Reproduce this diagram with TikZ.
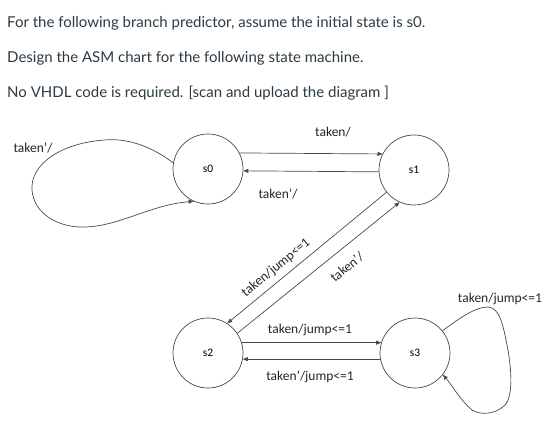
\documentclass[tikz,border=0pt]{standalone}
\usepackage{fontspec}
\setmainfont{Carlito}
\newfontfamily\latofont{Lato}
\usetikzlibrary{arrows.meta}
\definecolor{qtext}{HTML}{2D3B45}
\definecolor{ln}{HTML}{4A4A4A}
\begin{document}
\begin{tikzpicture}[x=1pt,y=-1pt,
  qline/.style={anchor=base west,text=qtext,font=\latofont\fontsize{15}{18}\selectfont,inner sep=0},
  state/.style={circle,draw=ln,line width=0.7pt,minimum size=70pt,inner sep=0,font=\fontsize{11.5}{13}\selectfont},
  arr/.style={draw=ln,line width=0.7pt,-{Triangle[length=5pt,width=4pt]}},
  lbl/.style={font=\fontsize{13.5}{16}\selectfont,text=black!85,inner sep=0}]
\useasboundingbox[fill=white] (0,0) rectangle (558,433);
\node[qline] (q1) at (7,28) {For the following branch predictor, assume the initial state is s0.};
\node[qline] (q2) at (7,63) {Design the ASM chart for the following state machine.};
\node[qline] (q3) at (7,98) {No VHDL code is required. [scan and upload the diagram ]};

\node[state] (s0) at (208,169) {s0};
\node[state] (s1) at (414,170) {s1};
\node[state] (s2) at (208,353) {s2};
\node[state] (s3) at (415,353) {s3};

\draw[arr] (s0.27) -- (s1.153);
\draw[arr] (s1.183) -- (s0.-3);
\draw[arr] (s2.17) -- (s3.163);
\draw[arr] (s3.190) -- (s2.-10);
\draw[arr] (s1.219) -- (s2.57);
\draw[arr] (s2.34) -- (s1.246);

\draw[arr] (s0.170) .. controls (150,145) and (125,138) .. (105,140)
  .. controls (60,143) and (30,165) .. (32,190)
  .. controls (34,215) and (60,228) .. (85,227)
  .. controls (120,226) and (150,205) .. (s0.246);
\draw[arr] (s3.39) .. controls (460,318) and (475,307) .. (488,307)
  .. controls (500,308) and (503,325) .. (507,345)
  .. controls (511,365) and (514,395) .. (505,405)
  .. controls (495,415) and (480,415) .. (472,410)
  .. controls (460,400) and (452,385) .. (s3.-38);

\node[lbl] (l1) at (333,132) {taken/};
\node[lbl] (l2) at (278,194) {taken’/};
\node[lbl,rotate=39.5] (l3) at (276,268) {taken/jump<=1};
\node[lbl,rotate=39.5] (l4) at (347,267) {taken’/};
\node[lbl] (l5) at (310,330) {taken/jump<=1};
\node[lbl] (l6) at (310,377) {taken’/jump<=1};
\node[lbl] (l7) at (33,148) {taken’/};
\node[lbl] (l8) at (500,299) {taken/jump<=1};
\end{tikzpicture}
\end{document}
